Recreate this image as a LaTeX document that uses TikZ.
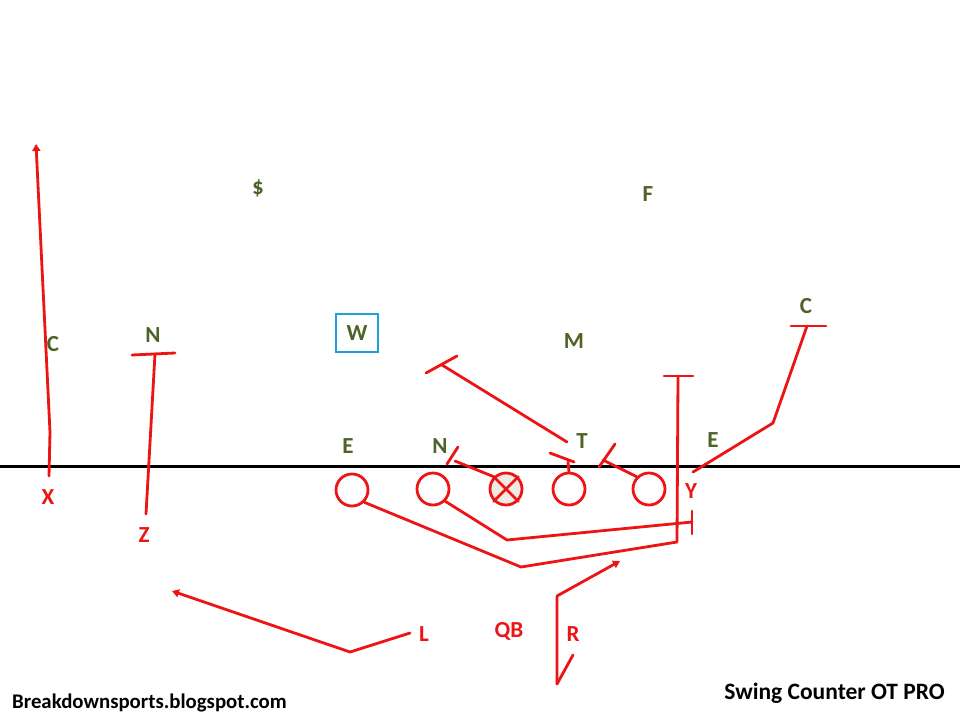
\documentclass[tikz,border=0pt]{standalone}
\usepackage{fontspec}
\setmainfont{Carlito}
\usetikzlibrary{arrows.meta}
\definecolor{rte}{RGB}{236,20,20}
\definecolor{def}{RGB}{79,98,40}
\definecolor{wbox}{RGB}{30,160,220}
\definecolor{cfill}{RGB}{238,234,228}
\begin{document}
\begin{tikzpicture}[x=1pt,y=-1pt,
  rt/.style={draw=rte,line width=2.8pt,line cap=round,line join=round},
  arr/.style={rt,-{Triangle[length=7pt,width=8pt]}},
  dlab/.style={text=def,font=\fontsize{23}{23}\selectfont\bfseries,inner sep=0pt},
  olab/.style={text=rte,font=\fontsize{23}{23}\selectfont\bfseries,inner sep=0pt},
  olin/.style={circle,draw=rte,line width=2.8pt,minimum size=32pt,inner sep=0pt},
  footl/.style={text=black,font=\fontsize{20.8}{21}\selectfont\bfseries,inner sep=0pt},
  footr/.style={text=black,font=\fontsize{23.5}{24}\selectfont\bfseries,inner sep=0pt}]
\useasboundingbox (0,0) rectangle (960,720);
% line of scrimmage
\coordinate (los1) at (0,466);
\coordinate (los2) at (960,466);
\draw[line width=3pt] (los1) -- (los2);
% offensive line
\node[olin] (lt) at (352,490) {};
\node[olin] (lg) at (433,489) {};
\node[olin,fill=cfill] (cc) at (506,489) {};
\node[olin] (rg) at (569,489) {};
\node[olin] (rt) at (649,489) {};
\draw[rt] (cc.north west) -- (cc.south east);
\draw[rt] (cc.north east) -- (cc.south west);
% defenders
\node[dlab] (dS) at (258,188) {\$};
\node[dlab] (dF) at (648,194) {F};
\node[dlab] (dC1) at (53,344) {C};
\node[dlab] (dN1) at (153,335) {N};
\node[dlab,draw=wbox,line width=2pt,minimum width=42pt,minimum height=38pt] (dW) at (357,333) {W};
\node[dlab] (dM) at (574,341) {M};
\node[dlab] (dC2) at (806,306) {C};
\node[dlab] (dE1) at (348,446) {E};
\node[dlab] (dN2) at (440,446) {N};
\node[dlab] (dT) at (582,441) {T};
\node[dlab] (dE2) at (713,440) {E};
% offensive labels
\node[olab] (oX) at (48,497) {X};
\node[olab] (oZ) at (144,535) {Z};
\node[olab] (oY) at (691,491) {Y};
\node[olab] (oL) at (424,634) {L};
\node[olab] (oQB) at (509,631) {QB};
\node[olab] (oR) at (573,634) {R};
% footer
\node[footl,anchor=west] (blog) at (12,703) {Breakdownsports.blogspot.com};
\node[footr,anchor=east] (play) at (945,693) {Swing Counter OT PRO};
% X route
\coordinate (x0) at (49,476); \coordinate (x1) at (50,432); \coordinate (x2) at (36,144);
\draw[arr] (x0) -- (x1) -- (x2);
% Z block
\coordinate (z0) at (146,514); \coordinate (z1) at (155,354);
\coordinate (zb1) at (132,355); \coordinate (zb2) at (175,353);
\draw[rt] (z0) -- (z1); \draw[rt] (zb1) -- (zb2);
% L route
\coordinate (l0) at (410,633); \coordinate (l1) at (350,652); \coordinate (l2) at (172,591);
\draw[arr] (l0) -- (l1) -- (l2);
% R route
\coordinate (r0) at (557,684); \coordinate (r1) at (557,596); \coordinate (r2) at (620,561);
\coordinate (r3) at (573,655);
\draw[arr] (r0) -- (r1) -- (r2);
\draw[rt] (r0) -- (r3);
% LT pull
\coordinate (p1) at (521,567); \coordinate (p2) at (677,542); \coordinate (p3) at (678,376);
\coordinate (pb1) at (664,376); \coordinate (pb2) at (693,376);
\draw[rt] (lt.south east) -- (p1) -- (p2) -- (p3);
\draw[rt] (pb1) -- (pb2);
% LG pull
\coordinate (g1) at (507,540); \coordinate (g2) at (692,522);
\coordinate (gb1) at (692,511); \coordinate (gb2) at (692,534);
\draw[rt] (lg.south east) -- (g1) -- (g2);
\draw[rt] (gb1) -- (gb2);
% C block
\coordinate (c1) at (455,461);
\coordinate (cb1) at (447,464); \coordinate (cb2) at (458,447);
\draw[rt] (cc.north west) -- (c1);
\draw[rt] (cb1) -- (cb2);
% RG block
\coordinate (rg1) at (568,462);
\coordinate (rgb1) at (550,453); \coordinate (rgb2) at (574,462);
\draw[rt] (rg.north) -- (rg1);
\draw[rt] (rgb1) -- (rgb2);
% second level block
\coordinate (m0) at (567,442); \coordinate (m1) at (442,365);
\coordinate (mb1) at (426,373); \coordinate (mb2) at (457,356);
\draw[rt] (m0) -- (m1);
\draw[rt] (mb1) -- (mb2);
% RT block
\coordinate (t1) at (603,460);
\coordinate (tb1) at (599,467); \coordinate (tb2) at (615,444);
\draw[rt] (rt.north west) -- (t1);
\draw[rt] (tb1) -- (tb2);
% Y route
\coordinate (y0) at (693,472); \coordinate (y1) at (773,423); \coordinate (y2) at (807,326);
\coordinate (yb1) at (791,326); \coordinate (yb2) at (826,326);
\draw[rt] (y0) -- (y1) -- (y2);
\draw[rt] (yb1) -- (yb2);
\end{tikzpicture}
\end{document}
